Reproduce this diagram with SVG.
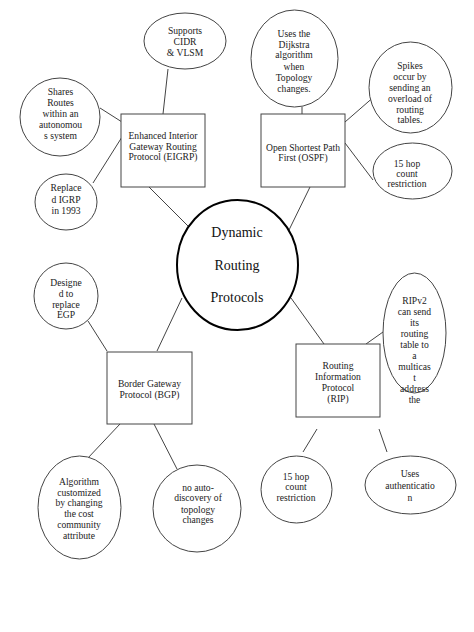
<svg xmlns="http://www.w3.org/2000/svg" width="474" height="632" viewBox="0 0 474 632" font-family="'Liberation Serif', 'DejaVu Serif', serif">
<style>
.s{fill:#fff;stroke:#444;stroke-width:1}
.m{fill:#fff;stroke:#000;stroke-width:2}
.c line{stroke:#444;stroke-width:1}
.t text{font-size:9.6px;fill:#222;text-anchor:middle}
.t text.big{font-size:14px;fill:#111}
</style>
<rect width="474" height="632" fill="#fff"/>
<g class="c" id="connectors">
<line x1="168" y1="69" x2="163" y2="114"/>
<line x1="100" y1="108" x2="122" y2="122"/>
<line x1="93" y1="183" x2="122" y2="137"/>
<line x1="149" y1="187" x2="192" y2="230"/>
<line x1="302" y1="107" x2="302" y2="114"/>
<line x1="345" y1="122" x2="376" y2="95"/>
<line x1="345" y1="143" x2="373" y2="180"/>
<line x1="310" y1="187" x2="289" y2="230"/>
<line x1="88" y1="321" x2="107" y2="351"/>
<line x1="182" y1="298" x2="157" y2="351"/>
<line x1="120" y1="424" x2="87" y2="459"/>
<line x1="154" y1="424" x2="177" y2="469"/>
<line x1="291" y1="298" x2="324" y2="344"/>
<line x1="366" y1="344" x2="383" y2="332"/>
<line x1="317" y1="429" x2="303" y2="452"/>
<line x1="379" y1="429" x2="387" y2="452"/>
</g>
<g class="t">
<g id="supports">
<ellipse class="s" cx="185" cy="41" rx="41" ry="28"/>
<text x="185" y="34">Supports</text><text x="185" y="45">CIDR</text><text x="185" y="56">&amp; VLSM</text>
</g>
<g id="shares">
<ellipse class="s" cx="60" cy="117" rx="40" ry="39"/>
<text x="60.5" y="94.5">Shares</text><text x="60.5" y="105.5">Routes</text><text x="60.5" y="116.5">within an</text><text x="60.5" y="127.5">autonomou</text><text x="60.5" y="138.5">s system</text>
</g>
<g id="eigrp">
<rect class="s" x="121" y="114" width="84" height="73"/>
<text x="163" y="138.5">Enhanced Interior</text><text x="163" y="149.5">Gateway Routing</text><text x="163" y="159.5">Protocol (EIGRP)</text>
</g>
<g id="replaced">
<ellipse class="s" cx="66" cy="202" rx="31" ry="28"/>
<text x="66" y="191">Replace</text><text x="66" y="202.5">d IGRP</text><text x="66" y="214">in 1993</text>
</g>
<g id="dijkstra">
<ellipse class="s" cx="294.5" cy="58.5" rx="43.5" ry="48.5"/>
<text x="294" y="36.5">Uses the</text><text x="294" y="47.5">Dijkstra</text><text x="294" y="58">algorithm</text><text x="294" y="69.5">when</text><text x="294" y="80.5">Topology</text><text x="294" y="91.5">changes.</text>
</g>
<g id="ospf">
<rect class="s" x="261" y="114" width="84" height="73"/>
<text x="303" y="150.5">Open Shortest Path</text><text x="303" y="160.5">First (OSPF)</text>
</g>
<g id="spikes">
<ellipse class="s" cx="410.5" cy="87.5" rx="41.5" ry="45.5"/>
<text x="410" y="68.5">Spikes</text><text x="410" y="79.5">occur by</text><text x="410" y="90.5">sending an</text><text x="410" y="101.5">overload of</text><text x="410" y="112.5">routing</text><text x="410" y="122.5">tables.</text>
</g>
<g id="hop1">
<ellipse class="s" cx="412.5" cy="171" rx="39.5" ry="28"/>
<text x="407" y="166.5">15 hop</text><text x="407" y="176.5">count</text><text x="407" y="186.5">restriction</text>
</g>
<g id="main">
<ellipse class="m" cx="237.5" cy="265" rx="60.5" ry="65"/>
<text class="big" x="237" y="237">Dynamic</text><text class="big" x="237" y="270">Routing</text><text class="big" x="237" y="302">Protocols</text>
</g>
<g id="designed">
<ellipse class="s" cx="66" cy="296" rx="32" ry="33"/>
<text x="66" y="285.5">Designe</text><text x="66" y="296.5">d to</text><text x="66" y="307.5">replace</text><text x="66" y="317.5">EGP</text>
</g>
<g id="bgp">
<rect class="s" x="107" y="352" width="85" height="72"/>
<text x="149.5" y="386.5">Border Gateway</text><text x="149.5" y="397.5">Protocol (BGP)</text>
</g>
<g id="rip">
<rect class="s" x="296" y="344" width="84" height="73"/>
<text x="338" y="368.5">Routing</text><text x="338" y="379.5">Information</text><text x="338" y="390.5">Protocol</text><text x="338" y="401.5">(RIP)</text>
</g>
<g id="ripv2">
<ellipse class="s" cx="414.5" cy="333" rx="31.5" ry="60"/>
<text x="414.5" y="303.5">RIPv2</text><text x="414.5" y="314.5">can send</text><text x="414.5" y="325.5">its</text><text x="414.5" y="336.5">routing</text><text x="414.5" y="347.5">table to</text><text x="414.5" y="358.5">a</text><text x="414.5" y="370">multicas</text><text x="414.5" y="380.5">t</text><text x="414.5" y="391.5">address</text><text x="414.5" y="402.5">the</text>
</g>
<g id="hop2">
<ellipse class="s" cx="296.5" cy="489.5" rx="35.5" ry="33.5"/>
<text x="296" y="479.5">15 hop</text><text x="296" y="489.5">count</text><text x="296" y="500.5">restriction</text>
</g>
<g id="auth">
<ellipse class="s" cx="410.5" cy="485" rx="45.5" ry="29"/>
<text x="410" y="476.5">Uses</text><text x="410" y="488.5">authenticatio</text><text x="410" y="500.5">n</text>
</g>
<g id="algorithm">
<ellipse class="s" cx="79.5" cy="507.5" rx="41.5" ry="51.5"/>
<text x="79" y="484.5">Algorithm</text><text x="79" y="495.5">customized</text><text x="79" y="505.5">by changing</text><text x="79" y="516.5">the cost</text><text x="79" y="527.5">community</text><text x="79" y="538.5">attribute</text>
</g>
<g id="noauto">
<ellipse class="s" cx="197" cy="508.5" rx="44" ry="43.5"/>
<text x="198" y="490.5">no auto-</text><text x="198" y="500.5">discovery of</text><text x="198" y="512.5">topology</text><text x="198" y="522.5">changes</text>
</g>
</g>
</svg>
